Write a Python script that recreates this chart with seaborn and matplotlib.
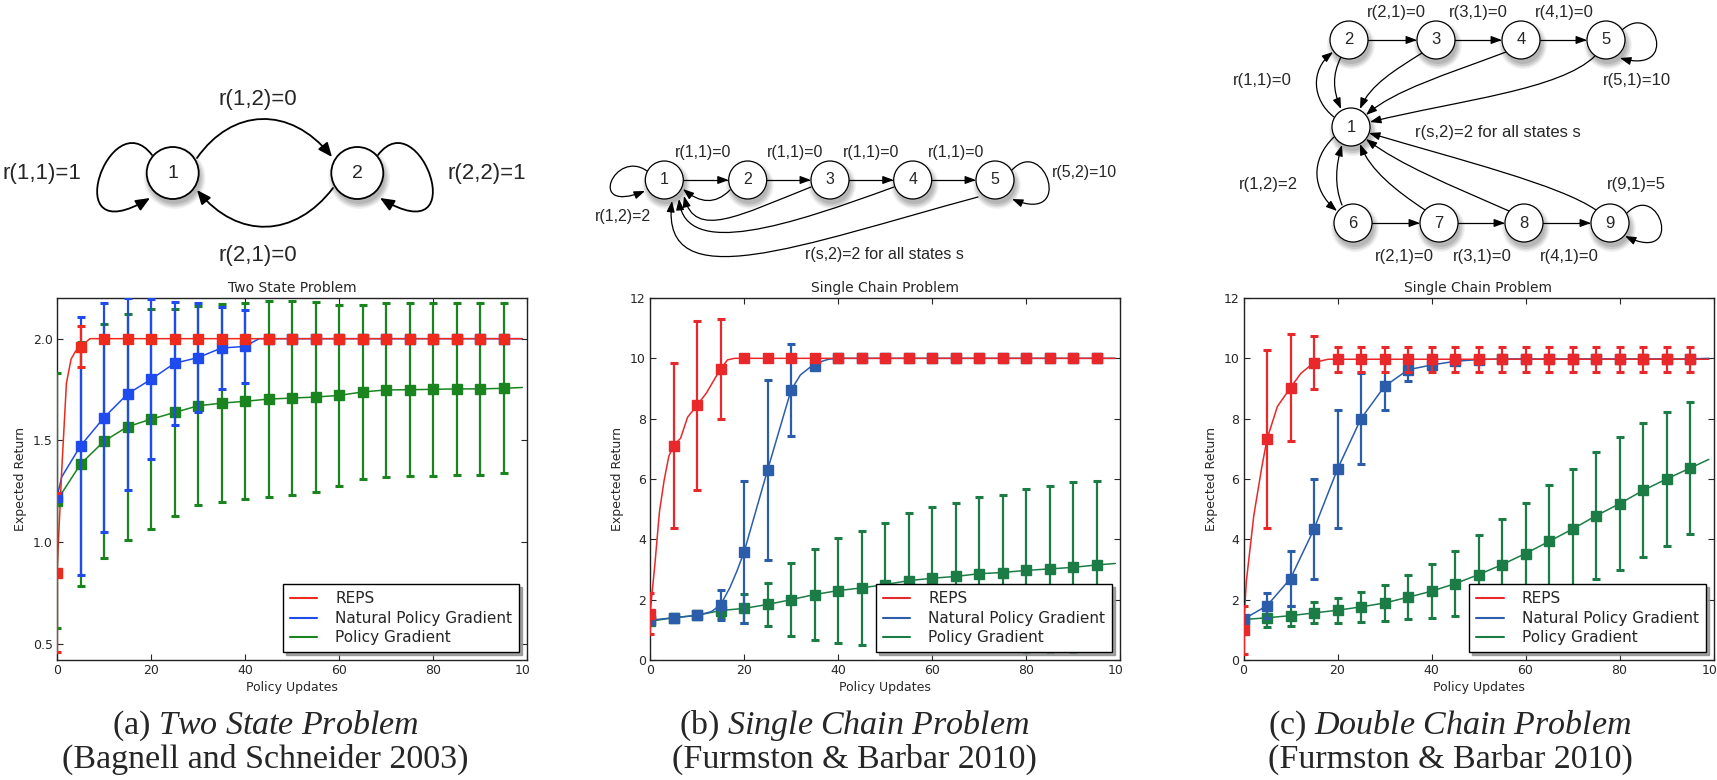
import numpy as np
import pandas as pd
import seaborn as sns
import matplotlib
matplotlib.use('Agg')
import matplotlib.pyplot as plt
from matplotlib.patches import Circle, FancyArrowPatch
from matplotlib.path import Path
from matplotlib.lines import Line2D
from matplotlib.transforms import Bbox, TransformedBbox

sns.set_style('ticks')
plt.rcParams['font.family'] = ['DejaVu Sans']
plt.rcParams['mathtext.fontset'] = 'custom'
plt.rcParams['mathtext.rm'] = 'Liberation Serif'
plt.rcParams['mathtext.it'] = 'Liberation Serif:italic'

# ---- data ----
policy_updates = [0, 5, 10, 15, 20, 25, 30, 35, 40, 45, 50, 55, 60, 65, 70, 75, 80, 85, 90, 95]
series_names = ['REPS', 'Natural Policy Gradient', 'Policy Gradient']

# (a) Two State Problem
a_reps_mean = [0.85, 1.96, 2.0, 2.0, 2.0, 2.0, 2.0, 2.0, 2.0, 2.0, 2.0, 2.0, 2.0, 2.0, 2.0, 2.0, 2.0, 2.0, 2.0, 2.0]
a_reps_err = [0.39, 0.10, 0, 0, 0, 0, 0, 0, 0, 0, 0, 0, 0, 0, 0, 0, 0, 0, 0, 0]
a_npg_mean = [1.22, 1.473, 1.612, 1.728, 1.80, 1.879, 1.907, 1.954, 1.962, 2.0, 2.0, 2.0, 2.0, 2.0, 2.0, 2.0, 2.0, 2.0, 2.0, 2.0]
a_npg_err = [0.0, 0.633, 0.564, 0.471, 0.394, 0.303, 0.269, 0.20, 0.18, 0.02, 0, 0, 0, 0, 0, 0, 0, 0, 0, 0]
a_pg_mean = [1.204, 1.383, 1.496, 1.567, 1.604, 1.637, 1.67, 1.683, 1.692, 1.703, 1.708, 1.713, 1.721, 1.738, 1.748, 1.749, 1.751, 1.753, 1.753, 1.756]
a_pg_err = [0.627, 0.60, 0.576, 0.556, 0.541, 0.509, 0.49, 0.486, 0.482, 0.481, 0.476, 0.466, 0.444, 0.428, 0.426, 0.425, 0.424, 0.423, 0.421, 0.418]
a_reps_line_x = [0, 1, 2, 3, 4, 5, 7, 99]
a_reps_line_y = [0.85, 1.35, 1.78, 1.9, 1.94, 1.96, 2.0, 2.0]
a_npg_line_x = [0, 1, 5, 10, 15, 20, 25, 30, 35, 40, 43, 99]
a_npg_line_y = [1.22, 1.32, 1.473, 1.612, 1.728, 1.80, 1.879, 1.907, 1.954, 1.962, 2.0, 2.0]
a_pg_line_x = policy_updates + [99]
a_pg_line_y = a_pg_mean + [1.76]

# (b) Single Chain Problem
b_reps_mean = [1.53, 7.11, 8.44, 9.64, 10, 10, 10, 10, 10, 10, 10, 10, 10, 10, 10, 10, 10, 10, 10, 10]
b_reps_err = [0.68, 2.72, 2.79, 1.65, 0, 0, 0, 0, 0, 0, 0, 0, 0, 0, 0, 0, 0, 0, 0, 0]
b_npg_mean = [1.32, 1.40, 1.48, 1.82, 3.57, 6.29, 8.94, 9.75, 10, 10, 10, 10, 10, 10, 10, 10, 10, 10, 10, 10]
b_npg_err = [0.03, 0.05, 0.05, 0.49, 2.36, 2.98, 1.52, 0.1, 0, 0, 0, 0, 0, 0, 0, 0, 0, 0, 0, 0]
b_pg_mean = [1.285, 1.40, 1.48, 1.64, 1.71, 1.84, 2.0, 2.17, 2.30, 2.39, 2.5, 2.63, 2.71, 2.77, 2.86, 2.9, 2.97, 3.02, 3.07, 3.15]
b_pg_err = [0.05, 0.06, 0.1, 0.25, 0.48, 0.71, 1.22, 1.52, 1.73, 1.9, 2.03, 2.24, 2.36, 2.43, 2.53, 2.56, 2.7, 2.75, 2.82, 2.8]
b_reps_line_x = [0, 1, 2, 3, 4, 5, 6.5, 8, 10, 12, 13.5, 15, 16.5, 18, 99]
b_reps_line_y = [1.53, 3.1, 4.9, 5.95, 6.75, 7.11, 7.35, 8.05, 8.44, 8.85, 9.25, 9.64, 9.95, 10.0, 10.0]
b_npg_line_x = [0, 5, 10, 13, 15, 17, 18.5, 20, 25, 30, 32, 35, 38, 40, 99]
b_npg_line_y = [1.32, 1.40, 1.48, 1.6, 1.82, 2.4, 2.95, 3.57, 6.29, 8.94, 9.45, 9.82, 9.97, 10.0, 10.0]
b_pg_line_x = policy_updates + [99]
b_pg_line_y = b_pg_mean + [3.2]

# (c) Double Chain Problem
c_reps_mean = [1.0, 7.32, 9.03, 9.86, 9.97, 9.97, 9.97, 9.97, 9.97, 9.97, 9.97, 9.97, 9.97, 9.97, 9.97, 9.97, 9.97, 9.97, 9.97, 9.97]
c_reps_err = [0.8, 2.95, 1.77, 0.88, 0.41, 0.41, 0.41, 0.41, 0.41, 0.41, 0.41, 0.41, 0.41, 0.41, 0.41, 0.41, 0.41, 0.41, 0.41, 0.41]
c_npg_mean = [1.35, 1.80, 2.70, 4.34, 6.33, 8.0, 9.07, 9.62, 9.78, 9.9, 9.96, 9.98, 9.98, 9.98, 9.98, 9.98, 9.98, 9.98, 9.98, 9.98]
c_npg_err = [0.05, 0.42, 0.9, 1.66, 1.97, 1.5, 0.77, 0.36, 0.15, 0.05, 0.03, 0, 0, 0, 0, 0, 0, 0, 0, 0]
c_pg_mean = [1.34, 1.40, 1.47, 1.56, 1.65, 1.76, 1.89, 2.08, 2.28, 2.53, 2.83, 3.16, 3.53, 3.93, 4.34, 4.78, 5.18, 5.62, 6.0, 6.36]
c_pg_err = [0.1, 0.3, 0.33, 0.35, 0.42, 0.5, 0.6, 0.73, 0.9, 1.08, 1.3, 1.5, 1.69, 1.87, 2.0, 2.11, 2.2, 2.22, 2.22, 2.19]
c_reps_line_x = [0, 0.6, 2.2, 3.9, 5, 7.2, 10, 12.2, 15, 18, 99]
c_reps_line_y = [1.0, 2.6, 4.8, 6.4, 7.32, 8.4, 9.03, 9.5, 9.86, 9.97, 9.97]
c_npg_line_x = policy_updates + [99]
c_npg_line_y = c_npg_mean + [10.0]
c_pg_line_x = policy_updates + [99]
c_pg_line_y = c_pg_mean + [6.65]

titles = ['Two State Problem', 'Single Chain Problem', 'Single Chain Problem']
captions = [(r'(a) $\mathit{Two\ State\ Problem}$', '(Bagnell and Schneider 2003)'),
            (r'(b) $\mathit{Single\ Chain\ Problem}$', '(Furmston & Barbar 2010)'),
            (r'(c) $\mathit{Double\ Chain\ Problem}$', '(Furmston & Barbar 2010)')]

W, H = 1717, 780
fig = plt.figure(figsize=(W / 100, H / 100), dpi=100)

# background axes in pixel units for the state diagrams
bg = fig.add_axes([0, 0, 1, 1])
bg.set_xlim(0, W)
bg.set_ylim(H, 0)
bg.axis('off')
bg.set_zorder(0)


def node(cx, cy, r, label, fs, lw):
    for k, a in [(5, 0.05), (3.5, 0.07), (2, 0.09), (0, 0.1)]:
        bg.add_patch(Circle((cx + 2, cy + 5), r + k, facecolor='black', alpha=a, lw=0, zorder=1))
    bg.add_patch(Circle((cx, cy), r, facecolor='white', edgecolor='black', lw=lw, zorder=3))
    bg.text(cx, cy, label, ha='center', va='center', fontsize=fs, family='Liberation Sans', zorder=4)


def arrow(pts, hl, hw, lw):
    codes = [Path.MOVETO] + ([Path.LINETO] if len(pts) == 2 else [Path.CURVE4] * 3)
    bg.add_patch(FancyArrowPatch(path=Path(pts, codes), arrowstyle='-|>,head_length=%s,head_width=%s' % (hl, hw),
                                 mutation_scale=10, lw=lw, color='black', zorder=2))


def label(x, y, s, fs, ha='center'):
    bg.text(x, y, s, ha=ha, va='center', fontsize=fs, family='Liberation Sans')


# diagram (a)
for cx, lab in [(172.7, '1'), (357.3, '2')]:
    node(cx, 173, 26, lab, 14, 1.3)
arrow([(197, 158), (232, 108), (290, 105), (332, 157)], 0.85, 0.36, 1.3)
arrow([(333, 188), (295, 238), (238, 240), (197, 190)], 0.85, 0.36, 1.3)
arrow([(152, 155), (110, 100), (55, 255), (150, 198)], 0.85, 0.36, 1.3)
arrow([(378, 155), (420, 100), (475, 255), (380, 198)], 0.85, 0.36, 1.3)
label(258, 100, 'r(1,2)=0', 16)
label(258, 255, 'r(2,1)=0', 16)
label(42, 173, 'r(1,1)=1', 16)
label(447, 173, 'r(2,2)=1', 16, ha='left')

# diagram (b)
b_nodes = [664.3, 747.7, 830, 912.7, 995]
for i, cx in enumerate(b_nodes):
    node(cx, 180, 19, str(i + 1), 11.5, 0.9)
for x0, x1 in zip(b_nodes[:-1], b_nodes[1:]):
    arrow([(x0 + 19, 180), (x1 - 19, 180)], 0.65, 0.24, 0.9)
arrow([(647, 171), (615, 148), (585, 215), (645, 191)], 0.65, 0.24, 0.9)
arrow([(1012, 170), (1045, 135), (1075, 225), (1012, 199)], 0.65, 0.24, 0.9)
arrow([(730, 190), (715, 205), (700, 203), (683, 189)], 0.65, 0.24, 0.9)
arrow([(811, 187), (740, 215), (695, 240), (684, 196)], 0.65, 0.24, 0.9)
arrow([(894, 187), (790, 225), (685, 260), (679, 199)], 0.65, 0.24, 0.9)
arrow([(978, 197), (800, 245), (660, 300), (672, 201)], 0.65, 0.24, 0.9)
for x in [703, 795, 871, 956]:
    label(x, 152, 'r(1,1)=0', 11.5)
label(623, 216, 'r(1,2)=2', 11.5)
label(1052, 172, 'r(5,2)=10', 11.5, ha='left')
label(805, 254, 'r(s,2)=2 for all states s', 11.5, ha='left')

# diagram (c)
c_nodes = {1: (1351, 127), 2: (1349, 40), 3: (1436, 40), 4: (1521, 40), 5: (1606, 40),
           6: (1353, 223), 7: (1439, 223), 8: (1524, 223), 9: (1610, 223)}
for k, (cx, cy) in c_nodes.items():
    node(cx, cy, 19, str(k), 12, 0.9)
for a, b in [(2, 3), (3, 4), (4, 5), (6, 7), (7, 8), (8, 9)]:
    arrow([(c_nodes[a][0] + 19, c_nodes[a][1]), (c_nodes[b][0] - 19, c_nodes[b][1])], 0.65, 0.24, 0.9)
c_curves = [
    [(1334, 117), (1312, 100), (1310, 70), (1333, 52)],
    [(1341, 57), (1332, 75), (1333, 90), (1341, 109)],
    [(1422, 53), (1395, 70), (1370, 85), (1360, 109)],
    [(1506, 52), (1445, 75), (1395, 90), (1366, 115)],
    [(1595, 56), (1560, 90), (1460, 100), (1370, 122)],
    [(1622, 30), (1655, 0), (1680, 75), (1620, 58)],
    [(1334, 137), (1310, 160), (1312, 190), (1337, 211)],
    [(1342, 205), (1334, 185), (1336, 165), (1342, 145)],
    [(1425, 210), (1395, 190), (1370, 170), (1360, 144)],
    [(1509, 211), (1450, 185), (1400, 165), (1366, 139)],
    [(1596, 210), (1560, 185), (1460, 160), (1369, 133)],
    [(1627, 213), (1660, 180), (1685, 265), (1625, 236)],
]
for pts in c_curves:
    arrow(pts, 0.65, 0.24, 0.9)
for x, s in [(1396, 'r(2,1)=0'), (1478, 'r(3,1)=0'), (1564, 'r(4,1)=0')]:
    label(x, 13, s, 12)
for x, s in [(1404, 'r(2,1)=0'), (1482, 'r(3,1)=0'), (1569, 'r(4,1)=0')]:
    label(x, 257, s, 12)
label(1637, 80, 'r(5,1)=10', 12)
label(1262, 80, 'r(1,1)=0', 12)
label(1268, 185, 'r(1,2)=2', 12)
label(1636, 185, 'r(9,1)=5', 12)
label(1415, 133, 'r(s,2)=2 for all states s', 12, ha='left')

# ---- plots ----
panels = [
    dict(left=57, ylim=(0.42, 2.2), yticks=[0.5, 1.0, 1.5, 2.0], yfmt='%.1f',
         colors=['#ee2a1c', '#1f4aee', '#1a841f'],
         mean=[a_reps_mean, a_npg_mean, a_pg_mean], err=[a_reps_err, a_npg_err, a_pg_err],
         lx=[a_reps_line_x, a_npg_line_x, a_pg_line_x], ly=[a_reps_line_y, a_npg_line_y, a_pg_line_y]),
    dict(left=650, ylim=(0, 12), yticks=[0, 2, 4, 6, 8, 10, 12], yfmt='%d',
         colors=['#e8282a', '#2b5dab', '#1b7d45'],
         mean=[b_reps_mean, b_npg_mean, b_pg_mean], err=[b_reps_err, b_npg_err, b_pg_err],
         lx=[b_reps_line_x, b_npg_line_x, b_pg_line_x], ly=[b_reps_line_y, b_npg_line_y, b_pg_line_y]),
    dict(left=1243.5, ylim=(0, 12), yticks=[0, 2, 4, 6, 8, 10, 12], yfmt='%d',
         colors=['#e8282a', '#2b5dab', '#1b7d45'],
         mean=[c_reps_mean, c_npg_mean, c_pg_mean], err=[c_reps_err, c_npg_err, c_pg_err],
         lx=[c_reps_line_x, c_npg_line_x, c_pg_line_x], ly=[c_reps_line_y, c_npg_line_y, c_pg_line_y]),
]

ax_w, ax_top, ax_bot = 470, 298, 660
cap_centers = [265, 854, 1450]

for i, p in enumerate(panels):
    ax = fig.add_axes([p['left'] / W, 1 - ax_bot / H, ax_w / W, (ax_bot - ax_top) / H])
    ax.set_zorder(2)
    handles = []
    for k in [2, 1, 0]:
        col = p['colors'][k]
        df = pd.DataFrame({'x': p['lx'][k], 'y': p['ly'][k]})
        sns.lineplot(data=df, x='x', y='y', ax=ax, color=col, lw=1.1, sort=False, estimator=None)
        ax.errorbar(policy_updates, p['mean'][k], yerr=p['err'][k], fmt='s', color=col, ms=7,
                    mec=col, elinewidth=1.6, capsize=2.6, capthick=2.2, zorder=3 + (2 - k))
    for k in range(3):
        handles.append(Line2D([], [], color=p['colors'][k], lw=1.5))
    ax.set_xlim(0, 100)
    ax.set_ylim(*p['ylim'])
    ax.set_xticks([0, 20, 40, 60, 80, 100])
    ax.set_yticks(p['yticks'])
    ax.set_yticklabels([p['yfmt'] % v for v in p['yticks']])
    ax.tick_params(direction='in', top=True, right=True, length=4, width=0.8, labelsize=9, pad=3)
    for s in ax.spines.values():
        s.set_linewidth(1.0)
        s.set_color('#222222')
    ax.set_title(titles[i], fontsize=10, pad=4)
    ax.set_xlabel('Policy Updates', fontsize=9, labelpad=3)
    ax.set_ylabel('Expected Return', fontsize=9, labelpad=4)
    ax.legend(handles, series_names, loc='lower right', fontsize=11, frameon=True, fancybox=False,
              edgecolor='black', framealpha=1, handlelength=1.8, labelspacing=0.3, borderpad=0.45,
              handletextpad=1.2, shadow={'color': '0.55', 'alpha': 0.8}, borderaxespad=0.5)
    # the "100" label is cut off by the edge of each sub-figure
    lab = ax.xaxis.get_major_ticks()[-1].label1
    xclip = (p['left'] + ax_w + 3) / W
    lab.set_clip_box(TransformedBbox(Bbox([[0, 0], [xclip, 1]]), fig.transFigure))
    lab.set_clip_on(True)

    cx = cap_centers[i] / W
    fig.text(cx, 1 - 726 / H, captions[i][0], ha='center', va='center', fontsize=24.5, family='Liberation Serif')
    fig.text(cx, 1 - 759 / H, captions[i][1], ha='center', va='center', fontsize=24.5, family='Liberation Serif')

fig.savefig('out.png', dpi=100)
